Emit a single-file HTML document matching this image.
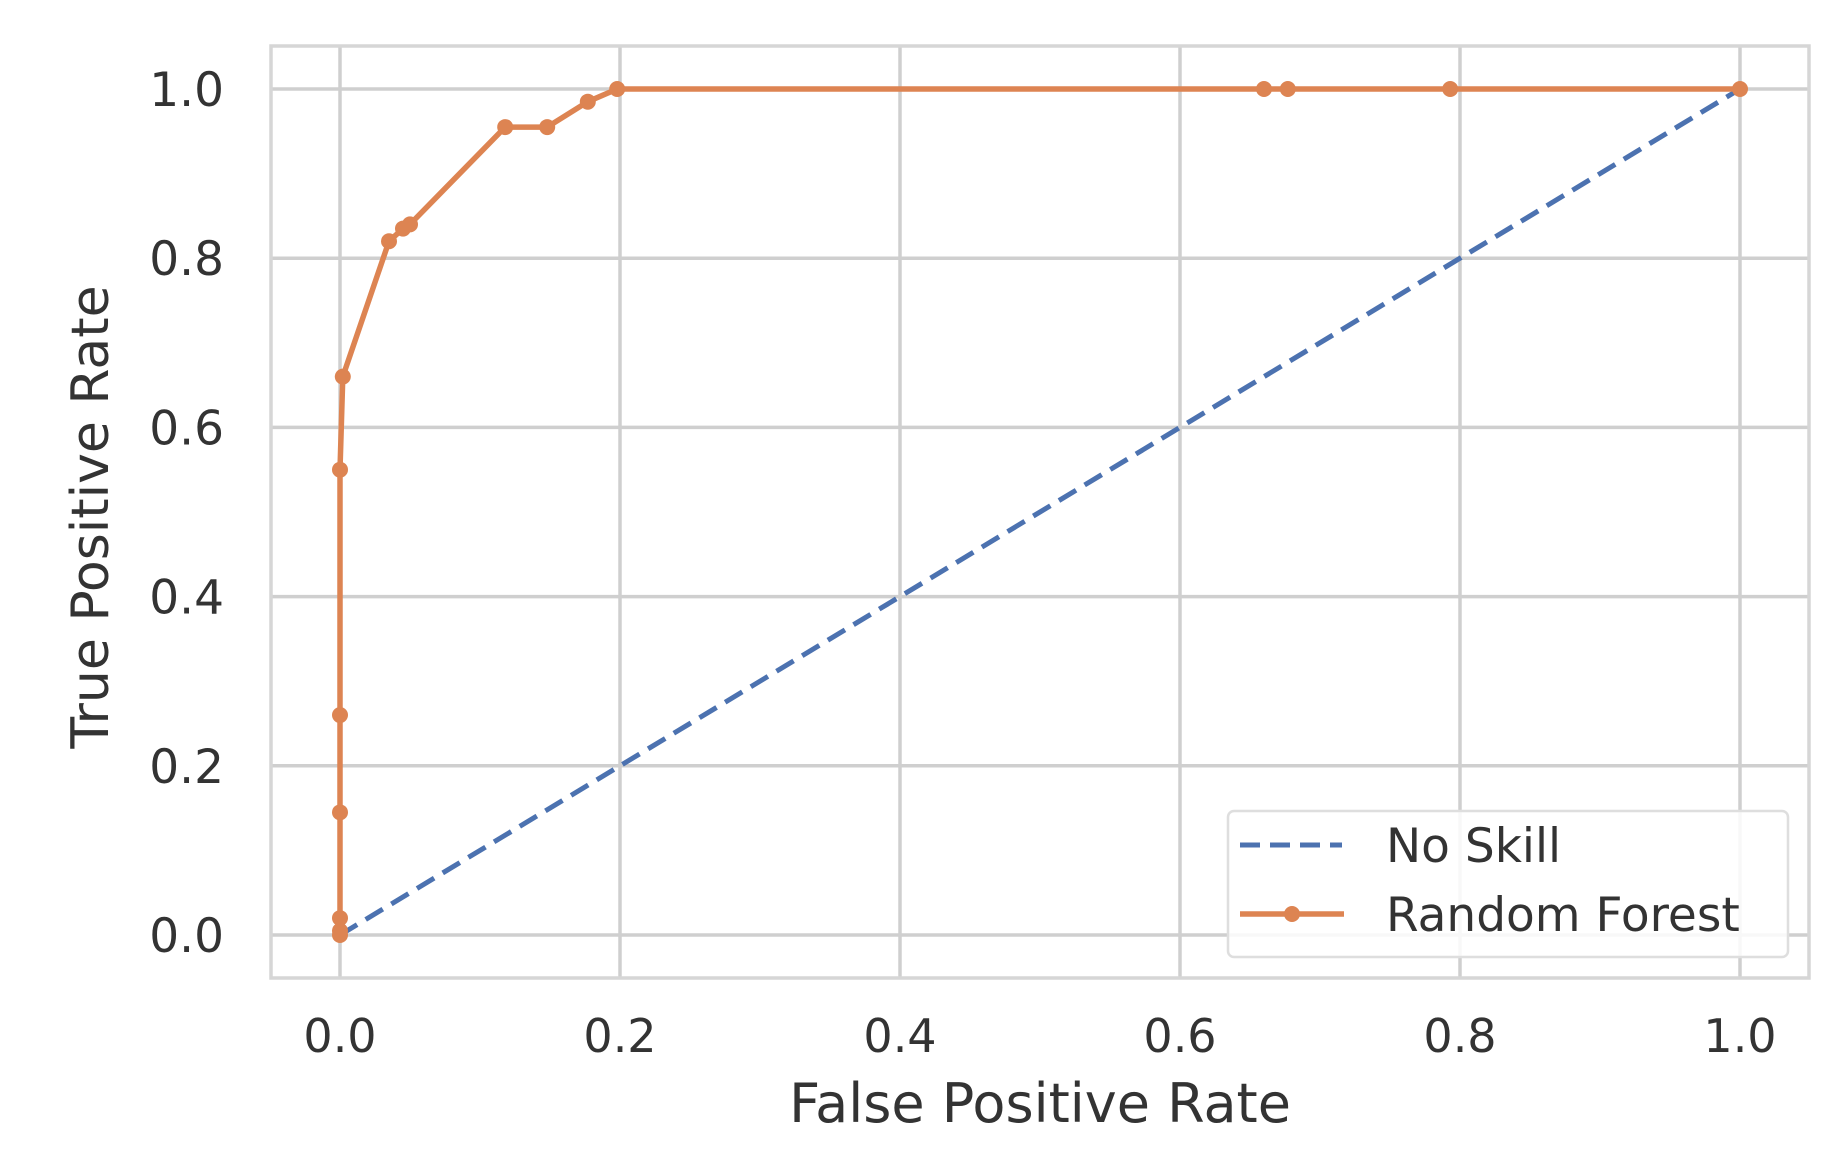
<!DOCTYPE html>
<html><head><meta charset="utf-8"><style>
html,body{margin:0;padding:0;background:#fff;}
svg{display:block;font-family:"DejaVu Sans","Liberation Sans",sans-serif;}
</style></head><body>
<svg id="chart" width="1840" height="1165" viewBox="0 0 1840 1165" xmlns="http://www.w3.org/2000/svg"></svg>
<script>
const xTicks = [0.0, 0.2, 0.4, 0.6, 0.8, 1.0];
const yTicks = [0.0, 0.2, 0.4, 0.6, 0.8, 1.0];
const tickLabels = ["0.0", "0.2", "0.4", "0.6", "0.8", "1.0"];
const noSkillX = [0, 1];
const noSkillY = [0, 1];
const rfFpr = [0, 0, 0, 0, 0, 0, 0.002, 0.035, 0.045, 0.05, 0.118, 0.148, 0.177, 0.198, 0.66, 0.677, 0.793, 1.0];
const rfTpr = [0, 0.005, 0.02, 0.145, 0.26, 0.55, 0.66, 0.82, 0.835, 0.84, 0.955, 0.955, 0.985, 1.0, 1.0, 1.0, 1.0, 1.0];

const NS = "http://www.w3.org/2000/svg";
const svg = document.getElementById("chart");
const X0 = 340, XS = 1400, Y0 = 935, YS = 846;
const fx = v => X0 + v * XS;
const fy = v => Y0 - v * YS;
function mk(tag, attrs, parent) {
  const e = document.createElementNS(NS, tag);
  for (const k in attrs) e.setAttribute(k, attrs[k]);
  (parent || svg).appendChild(e);
  return e;
}
const L = 271, T = 46, R = 1809, B = 978;
const grid = mk("g", {});


xTicks.forEach((v, i) => {
  const l = mk("line", {x1: fx(v), x2: fx(v), y1: T, y2: B, stroke: "#cfcfcf", "stroke-width": 3.5}, grid);
  
  
  const t = mk("text", {x: fx(v), y: 1052, "text-anchor": "middle", "font-size": 46, fill: "#333"});
  t.textContent = tickLabels[i];
  
  
});
yTicks.forEach((v, i) => {
  const l = mk("line", {x1: L, x2: R, y1: fy(v), y2: fy(v), stroke: "#cfcfcf", "stroke-width": 3.5}, grid);
  
  
  const t = mk("text", {x: 224, y: fy(v) + 17, "text-anchor": "end", "font-size": 47, fill: "#333"});
  t.textContent = tickLabels[i];
  
  
});
const frame = mk("rect", {x: L, y: T, width: R - L, height: B - T, fill: "none", stroke: "#d6d6d6", "stroke-width": 3.5});



const ns = mk("polyline", {points: noSkillX.map((x, i) => fx(x) + "," + fy(noSkillY[i])).join(" "), fill: "none", stroke: "#4c72b0", "stroke-width": 5, "stroke-dasharray": "20 10"});



const rf = mk("polyline", {points: rfFpr.map((x, i) => fx(x) + "," + fy(rfTpr[i])).join(" "), fill: "none", stroke: "#dd8452", "stroke-width": 5.5, "stroke-linejoin": "round"});


rfFpr.forEach((x, i) => {
  const c = mk("circle", {cx: fx(x), cy: fy(rfTpr[i]), r: 8, fill: "#dd8452"});
  
  
});

const xt = mk("text", {x: 1040, y: 1122, "text-anchor": "middle", "font-size": 54, fill: "#333"});
xt.textContent = "False Positive Rate";


const yt = mk("text", {x: 0, y: 0, "text-anchor": "middle", "font-size": 52, fill: "#333", transform: "translate(108 " + (fy(0.5) + 5) + ") rotate(-90)"});
yt.textContent = "True Positive Rate";



const lg = mk("g", {});


mk("rect", {x: 1228, y: 811, width: 560, height: 146, rx: 6, fill: "rgba(255,255,255,0.85)", stroke: "#dedede", "stroke-width": 2.5}, lg);
const l1 = mk("line", {x1: 1240, x2: 1342, y1: 845, y2: 845, stroke: "#4c72b0", "stroke-width": 5, "stroke-dasharray": "20 10"}, lg);


const t1 = mk("text", {x: 1386, y: 862, "font-size": 47, fill: "#333"}, lg);
t1.textContent = "No Skill";


const l2 = mk("line", {x1: 1240, x2: 1344, y1: 914, y2: 914, stroke: "#dd8452", "stroke-width": 5.5}, lg);


const c2 = mk("circle", {cx: 1292, cy: 914, r: 8, fill: "#dd8452"}, lg);


const t2 = mk("text", {x: 1386, y: 931, "font-size": 47, fill: "#333"}, lg);
t2.textContent = "Random Forest";


</script>
</body></html>
